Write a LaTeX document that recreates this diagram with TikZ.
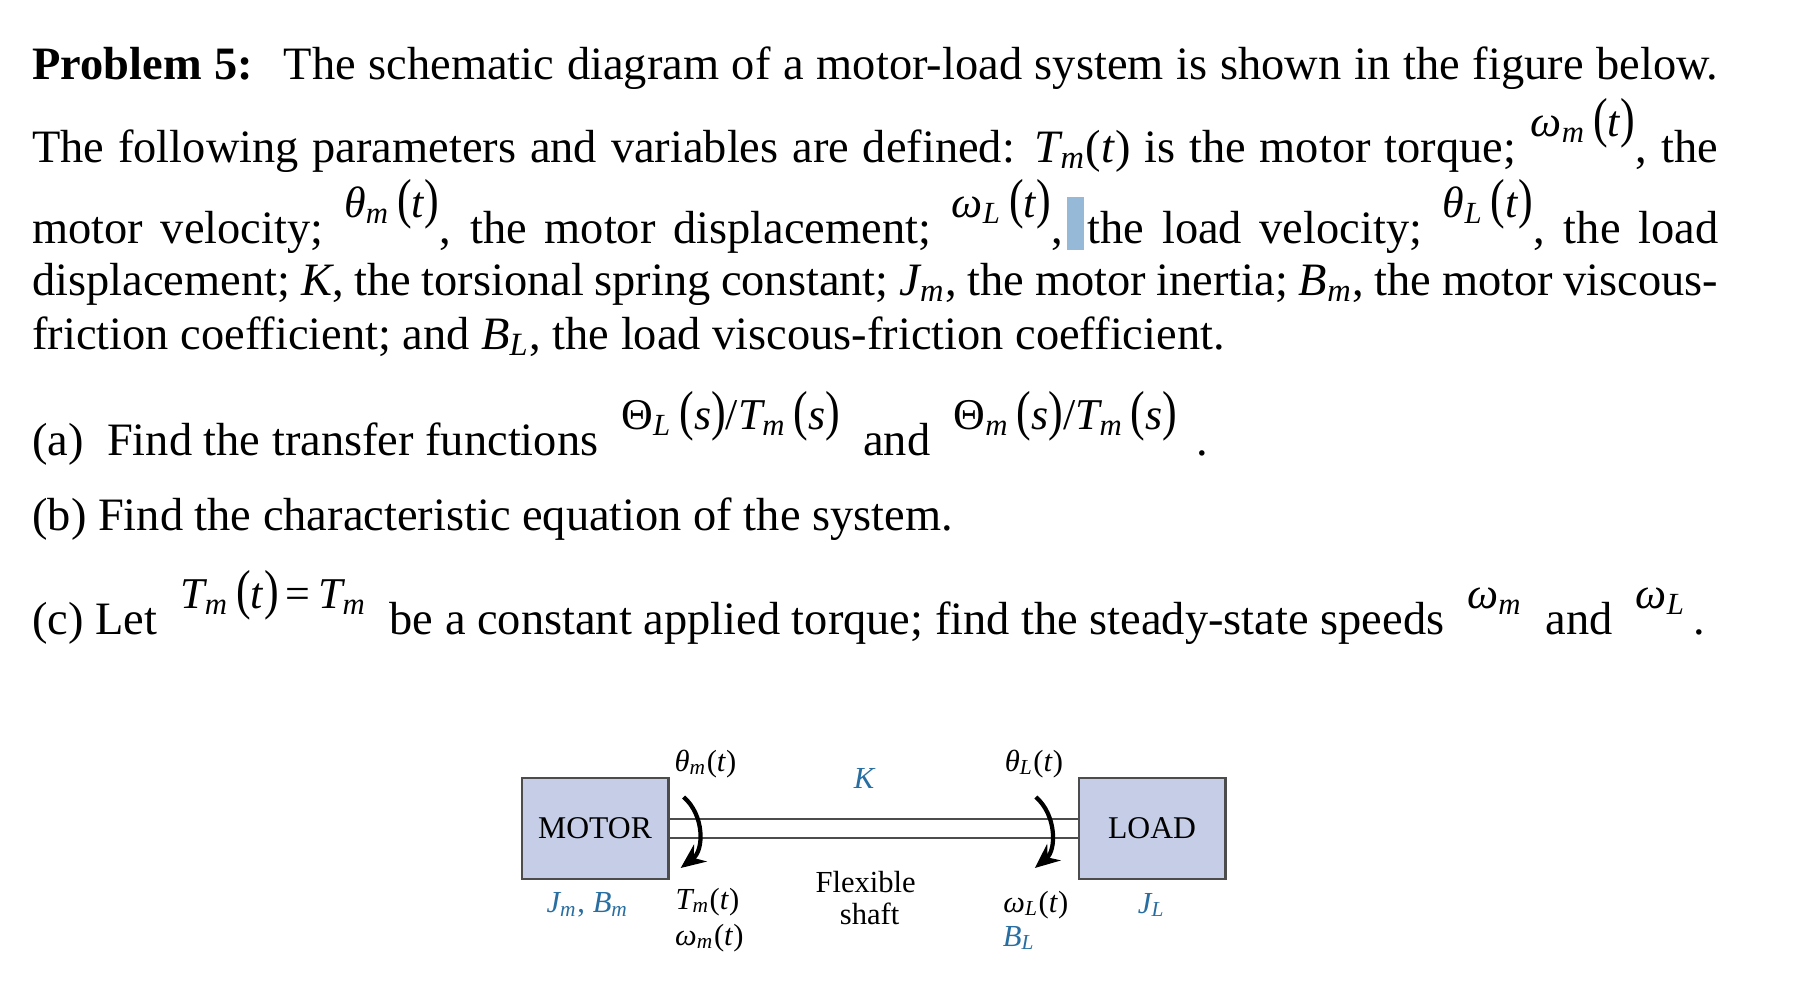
\documentclass[tikz,border=0pt]{standalone}
\usepackage{fontspec}
\usepackage{graphicx}
\usetikzlibrary{arrows.meta}
\setmainfont{Liberation Serif}
\definecolor{boxfill}{RGB}{197,206,230}
\definecolor{lblue}{RGB}{40,110,160}
\definecolor{hl}{RGB}{150,185,215}
\newcommand{\rz}[1]{\raisebox{0.55em}{\fontsize{12.5}{15}\selectfont #1}}
\newcommand{\pz}[1]{\scalebox{1}[1.25]{#1}}
\newcommand{\fw}[1]{\textit{#1}}
\begin{document}
\begin{tikzpicture}[x=0.01cm,y=-0.01cm,
  txt/.style={anchor=base west,inner sep=0,font=\fontsize{13.2}{16}\selectfont},
  dg/.style={font=\fontsize{8.7}{10}\selectfont,inner sep=0},
  bl/.style={dg,text=lblue},
  blk/.style={draw=black!70,line width=0.8pt,fill=boxfill,minimum width=1.46cm,minimum height=1.01cm,inner sep=0},
  tor/.style={-{Stealth[length=7pt,width=6pt]},line width=1.2pt}]
\useasboundingbox (0,0) rectangle (1793,981);
\begin{scope}[x=0.00989cm]
\def\W{16.85cm}
\node[txt] (l1) at (32,79) {\makebox[\W][s]{\textbf{Problem 5:} \ The schematic diagram of a motor-load system is shown in the figure below.}};
\node[txt] (l2) at (32,162) {\makebox[\W][s]{The following parameters and variables are defined: \fw{T\textsubscript{m}}(\fw{t}) is the motor torque; \rz{\fw{ω\textsubscript{m}}\,\pz{(}\fw{t}\pz{)}}, the}};
\node[txt] (l3) at (32,243) {\makebox[\W][s]{motor velocity; \rz{\fw{θ\textsubscript{m}}\,\pz{(}\fw{t}\pz{)}}, the motor displacement; \rz{\fw{ω\textsubscript{L}}\,\pz{(}\fw{t}\pz{)}},\hspace{1pt}{\color{hl}\rule[-2pt]{5pt}{15pt}}\hspace{1pt}the load velocity; \rz{\fw{θ\textsubscript{L}}\,\pz{(}\fw{t}\pz{)}}, the load}};
\node[txt] (l4) at (32,295) {\makebox[\W][s]{displacement; \fw{K}, the torsional spring constant; \fw{J\textsubscript{m}}, the motor inertia; \fw{B\textsubscript{m}}, the motor viscous-}};
\node[txt] (l5) at (32,349) {friction coefficient; and \fw{B\textsubscript{L}}, the load viscous-friction coefficient.};
\node[txt] (la) at (32,455) {(a)\ \ Find the transfer functions \ \rz{Θ\textsubscript{\fw{L}}\,\pz{(}\fw{s}\pz{)}/\fw{T\textsubscript{m}}\,\pz{(}\fw{s}\pz{)}}\ \ and \ \rz{Θ\textsubscript{\fw{m}}\,\pz{(}\fw{s}\pz{)}/\fw{T\textsubscript{m}}\,\pz{(}\fw{s}\pz{)}}\ \,.};
\node[txt] (lb) at (32,530) {(b) Find the characteristic equation of the system.};
\node[txt] (lc) at (32,634) {(c) Let \ \rz{\fw{T\textsubscript{m}}\,\pz{(}\fw{t}\pz{)}\,=\,\fw{T\textsubscript{m}}}\ \ be a constant applied torque; find the steady-state speeds \ \rz{\fw{ω\textsubscript{m}}}\ \ and \ \rz{\fw{ω\textsubscript{L}}}\,.};
% diagram
\node[blk] (motor) at (601.5,828.5) {\fontsize{9}{11}\selectfont MOTOR};
\node[blk] (load) at (1164.5,828.5) {\fontsize{9}{11}\selectfont LOAD};
\draw[black!70,line width=0.8pt] (motor.east |- 0,819) -- (load.west |- 0,819);
\draw[black!70,line width=0.8pt] (motor.east |- 0,838) -- (load.west |- 0,838);
\coordinate (a1s) at (691,797); \coordinate (a1e) at (688,868);
\draw[tor] (a1s) .. controls (712,815) and (712,850) .. (a1e);
\coordinate (a2s) at (1047,797); \coordinate (a2e) at (1046,868);
\draw[tor] (a2s) .. controls (1068,815) and (1068,850) .. (a2e);
\node[dg] (thm) at (713,764) {\fw{θ\textsubscript{m}}(\fw{t})};
\node[bl] (K) at (874,778) {\fw{K}};
\node[dg] (thl) at (1045,764) {\fw{θ\textsubscript{L}}(\fw{t})};
\node[bl] (jb) at (594,905) {\fw{J\textsubscript{m}}, \fw{B\textsubscript{m}}};
\node[dg] (tm) at (715,902) {\fw{T\textsubscript{m}}(\fw{t})};
\node[dg] (wm) at (717,938) {\fw{ω\textsubscript{m}}(\fw{t})};
\node[dg] (fl) at (875,882) {Flexible};
\node[dg] (sh) at (879,914) {shaft};
\node[dg] (wl) at (1047,905) {\fw{ω\textsubscript{L}}(\fw{t})};
\node[bl] (bL) at (1030,938) {\fw{B\textsubscript{L}}};
\node[bl] (jL) at (1164,905) {\fw{J\textsubscript{L}}};
\end{scope}
\end{tikzpicture}
\end{document}
